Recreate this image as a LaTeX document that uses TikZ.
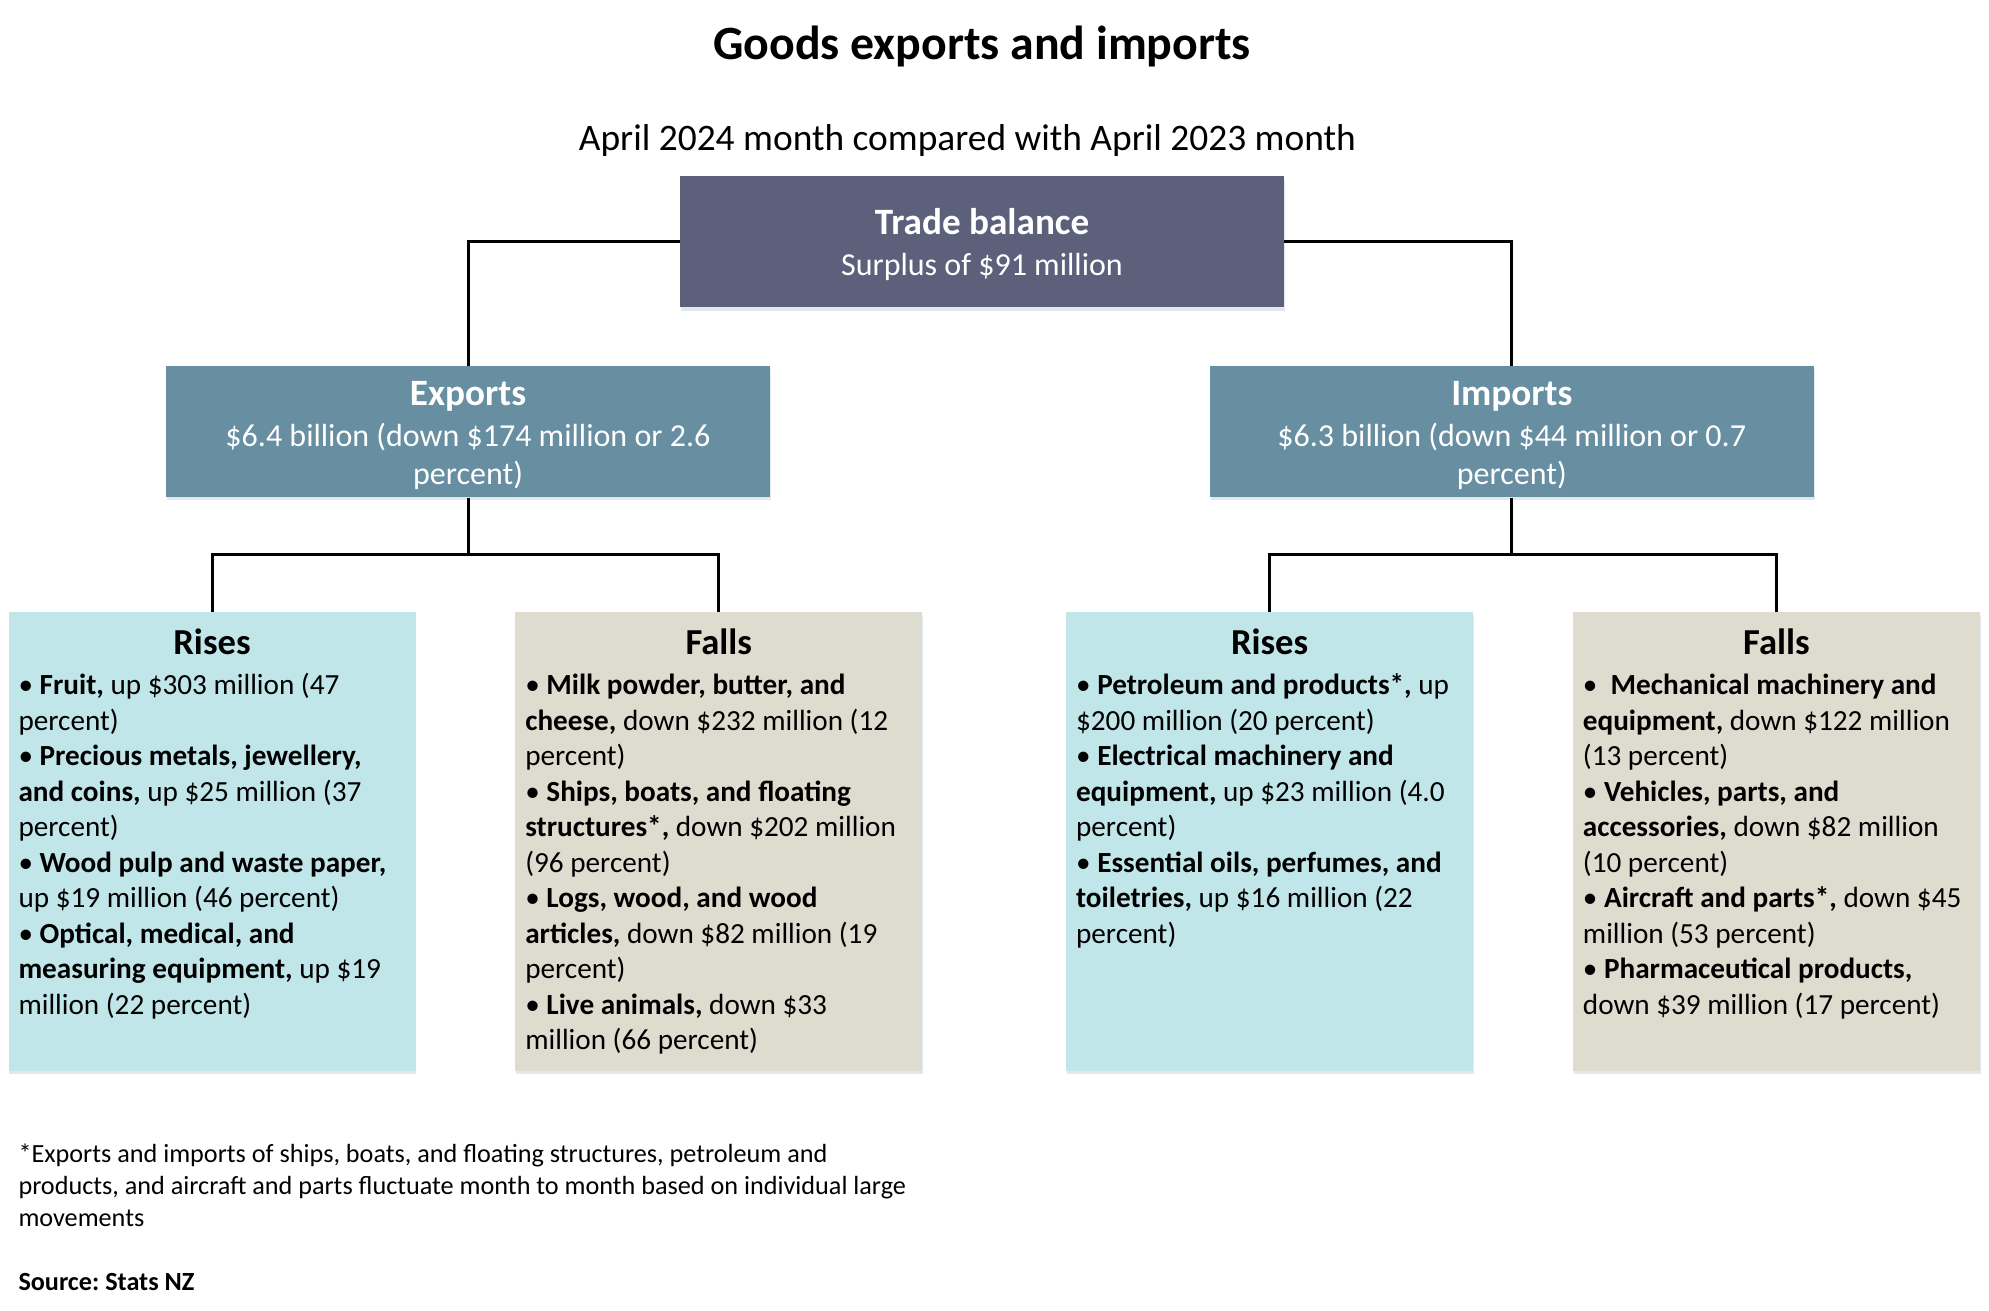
\documentclass[tikz,border=0pt]{standalone}
\usepackage{fontspec}
\setmainfont{Carlito}
\usepackage{xcolor}
\usepackage{tikz}
\usetikzlibrary{positioning, calc, shadows}
\definecolor{cSlate}{RGB}{92,96,123}
\definecolor{cSteel}{RGB}{103,142,161}
\definecolor{cRise}{RGB}{192,230,234}
\definecolor{cFall}{RGB}{222,220,206}
\frenchspacing
\newcommand{\hd}[1]{\rule{0pt}{16pt}{\fontsize{18.6}{21}\selectfont\bfseries #1}\\[1.5pt]}
\newcommand{\itemlist}[2]{\parbox[c][219.5pt][t]{193.5pt}{\vspace*{3.5pt}{\centering\fontsize{18.3}{22}\selectfont\bfseries #1\par}\vspace{2.3pt}\raggedright #2}}
\tikzset{
	topbox/.style ={rectangle, minimum width=302pt, minimum height=65.5pt, align=center, text=white, inner sep=0pt, font=\fontsize{16}{19}\selectfont},
	listbox/.style={rectangle, inner xsep=5pt, inner ysep=5pt, text=black, font=\fontsize{14.6}{17.75}\selectfont},
	note/.style   ={align=left, inner sep=5pt, font=\fontsize{13.1}{16}\selectfont},
	link/.style   ={line width=1.5pt, black},
	shade/.style  ={drop shadow={shadow xshift=0.4pt, shadow yshift=-1.6pt, fill=cSteel!25, opacity=0.8}},
}

\begin{document}
\begin{tikzpicture}[node distance=49.5pt]
	\useasboundingbox (0,0) rectangle (994.5pt,-655pt);
	\node[font=\fontsize{23.9}{28}\selectfont\bfseries] (title) at (491pt,-23.3pt) {Goods exports and imports};
	\node[font=\fontsize{18.7}{22}\selectfont] (sub) at (483.7pt,-70.5pt) {April 2024 month compared with April 2023 month};
	\node[topbox, fill=cSlate, shade, below=17.5pt of sub.center, xshift=7.3pt] (tb) {\hd{Trade balance}Surplus of \$91 million};
	\node[topbox, fill=cSteel, shade, below=29pt of tb.south, xshift=-257pt] (exp) {\hd{Exports}\$6.4 billion (down \$174 million or 2.6\\ percent)};
	\node[topbox, fill=cSteel, shade, right=219.5pt of exp] (imp) {\hd{Imports}\$6.3 billion (down \$44 million or 0.7\\ percent)};
	% exports detail
	\node[listbox, fill=cRise, shade, below=57pt of exp.south, xshift=-128pt] (xrise) {\itemlist{Rises}{%
		• \textbf{Fruit,} up \$303 million (47\\
		percent)\\
		• \textbf{Precious metals, jewellery,}\\
		\textbf{and coins,} up \$25 million (37\\
		percent)\\
		• \textbf{Wood pulp and waste paper,}\\
		up \$19 million (46 percent)\\
		• \textbf{Optical, medical, and}\\
		\textbf{measuring equipment,} up \$19\\
		million (22 percent)}};
	\node[listbox, fill=cFall, shade, right=of xrise] (xfall) {\itemlist{Falls}{%
		• \textbf{Milk powder, butter, and}\\
		\textbf{cheese,} down \$232 million (12\\
		percent)\\
		• \textbf{Ships, boats, and floating}\\
		\textbf{structures*,} down \$202 million\\
		(96 percent)\\
		• \textbf{Logs, wood, and wood}\\
		\textbf{articles,} down \$82 million (19\\
		percent)\\
		• \textbf{Live animals,} down \$33\\
		million (66 percent)}};
	% imports detail
	\node[listbox, fill=cRise, shade, right=71.5pt of xfall] (mrise) {\itemlist{Rises}{%
		• \textbf{Petroleum and products*,} up\\
		\$200 million (20 percent)\\
		• \textbf{Electrical machinery and}\\
		\textbf{equipment,} up \$23 million (4.0\\
		percent)\\
		• \textbf{Essential oils, perfumes, and}\\
		\textbf{toiletries,} up \$16 million (22\\
		percent)}};
	\node[listbox, fill=cFall, shade, right=of mrise] (mfall) {\itemlist{Falls}{%
		•\ \ \textbf{Mechanical machinery and}\\
		\textbf{equipment,} down \$122 million\\
		(13 percent)\\
		• \textbf{Vehicles, parts, and}\\
		\textbf{accessories,} down \$82 million\\
		(10 percent)\\
		• \textbf{Aircraft and parts*,} down \$45\\
		million (53 percent)\\
		• \textbf{Pharmaceutical products,}\\
		down \$39 million (17 percent)}};
	\node[note, below=31pt of xrise.south west, anchor=north west] (fnote) {*Exports and imports of ships, boats, and floating structures, petroleum and\\ products, and aircraft and parts fluctuate month to month based on individual large\\ movements};
	\node[note, font=\fontsize{13.1}{16}\selectfont\bfseries, below=13pt of fnote.south west, anchor=north west] (src) {Source: Stats NZ};
	\draw[link] (tb.west) -| (exp.north);
	\draw[link] (tb.east) -| (imp.north);
	\draw[link] (exp.south) -- ++(0,-28.5pt) coordinate (xsplit);
	\draw[link] (xrise.north) |- (xsplit) -| (xfall.north);
	\draw[link] (imp.south) -- ++(0,-28.5pt) coordinate (msplit);
	\draw[link] (mrise.north) |- (msplit) -| (mfall.north);
\end{tikzpicture}
\end{document}
